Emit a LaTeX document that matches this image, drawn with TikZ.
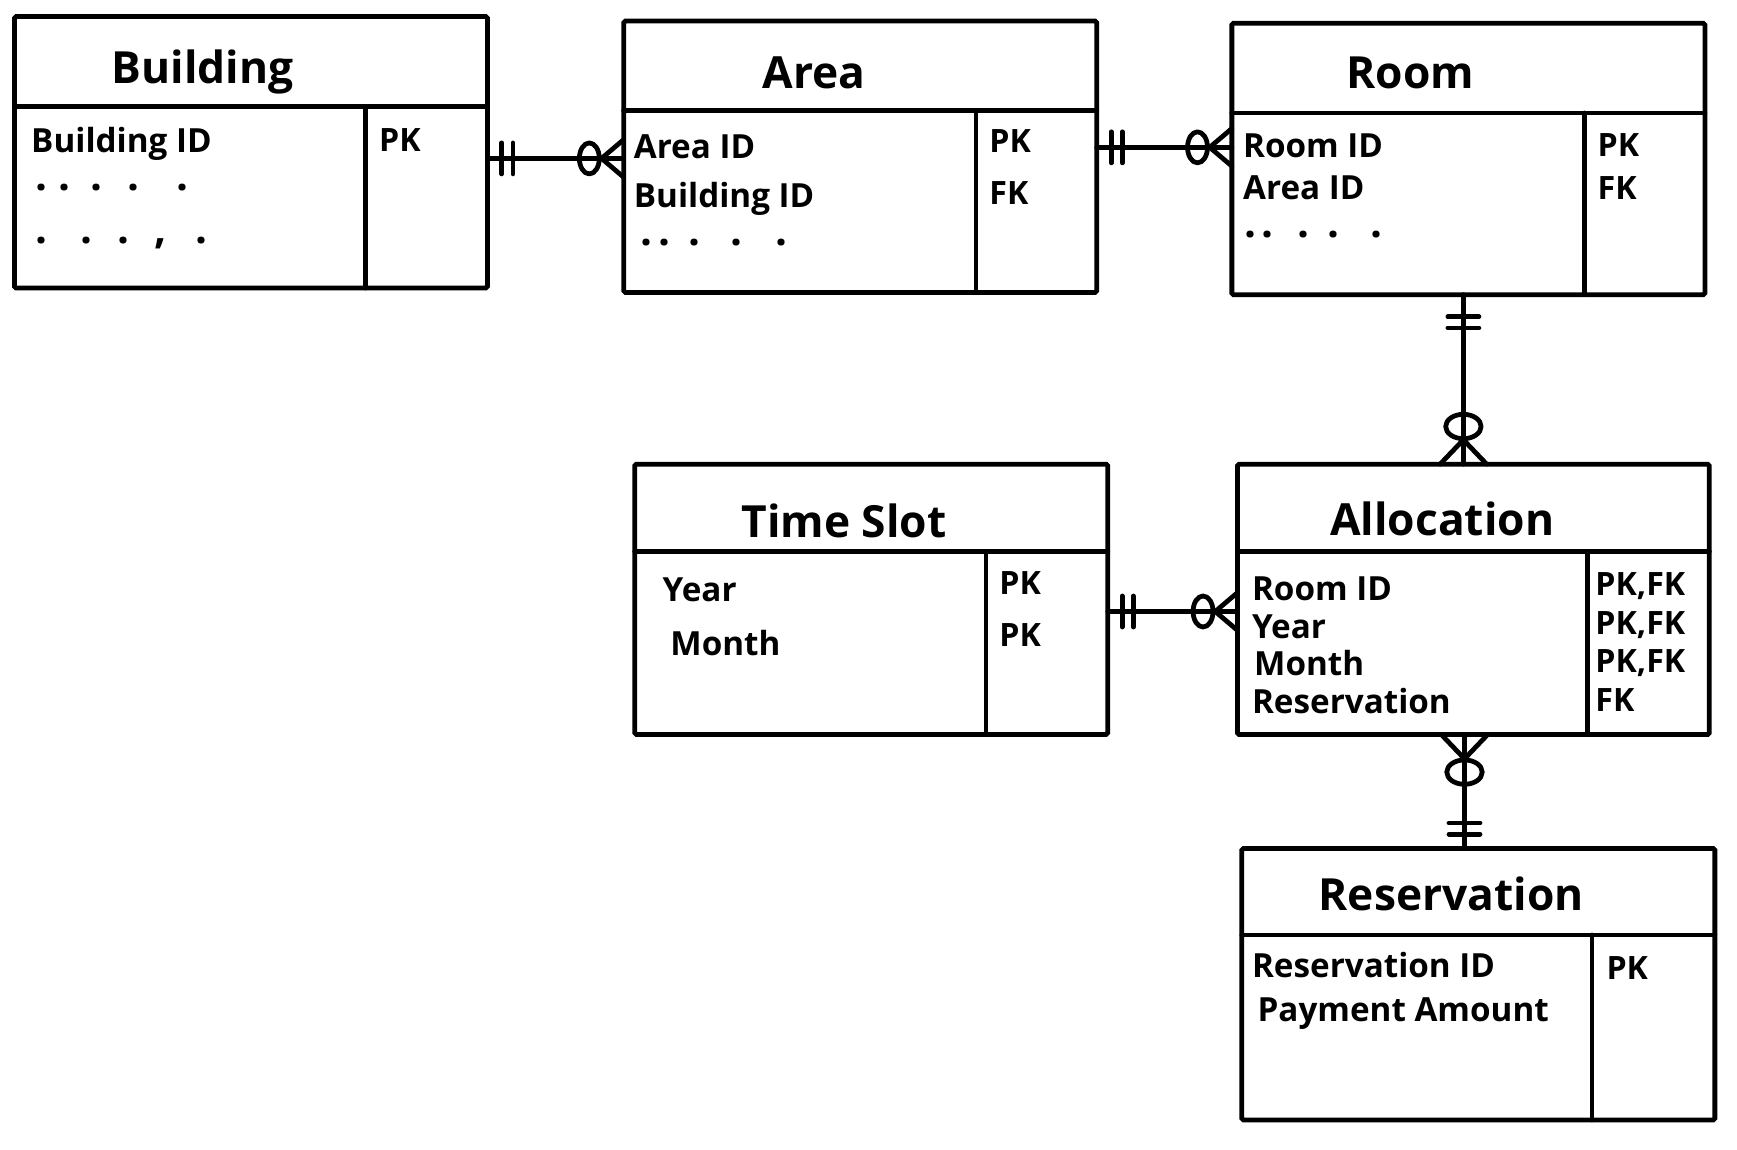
\documentclass[tikz,border=0pt]{standalone}
\usepackage{fontspec}
\setmainfont{Open Sans}
\newcommand{\erent}[7]{% name, x1, y1, x2, y2, header y, divider x
  \node[ent, minimum width={(#4-#2)*1pt}, minimum height={(#5-#3)*1pt}] (#1) at (#2,#3) {};
  \draw[ln] (#1.west |- 0,#6) -- (#1.east |- 0,#6);
  \draw[ln] (#7,#6) -- (#1.south -| #7,0);
}
\begin{document}
\begin{tikzpicture}[x=1pt,y=-1pt,
  ln/.style={line width=4.3pt, line cap=round, line join=round},
  ent/.style={draw, line width=4.3pt, rounded corners=1.5pt, inner sep=0pt, outer sep=0pt, anchor=north west},
  ttl/.style={font=\fontsize{40}{44}\selectfont\bfseries, anchor=base, inner sep=0pt},
  att/.style={font=\fontsize{30}{34}\selectfont\bfseries, anchor=base west, inner sep=0pt},
  dots/.style={font=\fontsize{38}{40}\selectfont\bfseries, anchor=base west, inner sep=0pt, text height=7pt, text depth=2pt},
  keyt/.style={font=\fontsize{29}{33}\selectfont\bfseries, anchor=base west, inner sep=0pt},
  one/.pic={\draw[ln] (13,-14) -- (13,14) (23,-14) -- (23,14);},
  onefar/.pic={\draw[ln] (20,-14) -- (20,14) (30,-14) -- (30,14);},
  zmany/.pic={\draw[ln] (0,-17) -- (20,0) -- (0,17);
              \draw[ln] (31,0) ellipse [x radius=9, y radius=14];},
  zmanyv/.pic={\draw[ln] (0,-21) -- (22,0) -- (0,21);
              \draw[ln] (34,0) ellipse [x radius=11, y radius=16];}
]
\fill[white] (0,0) rectangle (1568,1038);
\useasboundingbox (0,0) rectangle (1568,1038);

% ---------- entities ----------
\erent{bld}{13}{15}{440}{260}{96}{330}
\erent{area}{563}{19}{990}{264}{100}{881}
\erent{room}{1112}{21}{1539}{266}{102}{1430}
\erent{slot}{573}{419}{1000}{663}{498}{890}
\erent{alloc}{1117}{419}{1543}{663}{498}{1433}
\erent{res}{1121}{766}{1548}{1011}{844}{1437}

% ---------- Building ----------
\node[ttl] (bldT) at (183,75) {Building};
\node[att] (bldA1) at (28,138) {Building ID};
\node[dots] (bldD1) at (32,172) {.\hspace{10pt}.\hspace{18pt}.\hspace{22pt}.\hspace{34pt}.};
\node[dots] (bldD2) at (32,220) {.\hspace{30pt}.\hspace{22pt}.\hspace{23pt},\hspace{26pt}.};
\node[keyt] (bldK1) at (342,137) {PK};

% ---------- Area ----------
\node[ttl] (areaT) at (735,80) {Area};
\node[att] (areaA1) at (572,143) {Area ID};
\node[att] (areaA2) at (572,187) {Building ID};
\node[dots] (areaD) at (578,222) {.\hspace{5pt}.\hspace{17pt}.\hspace{27pt}.\hspace{30pt}.};
\node[keyt] (areaK1) at (893,138) {PK};
\node[keyt] (areaK2) at (893,185) {FK};

% ---------- Room ----------
\node[ttl] (roomT) at (1273,80) {Room};
\node[att] (roomA1) at (1122,142) {Room ID};
\node[att] (roomA2) at (1122,180) {Area ID};
\node[dots] (roomD) at (1123,214) {.\hspace{5pt}.\hspace{21pt}.\hspace{17pt}.\hspace{28pt}.};
\node[keyt] (roomK1) at (1442,141) {PK};
\node[keyt] (roomK2) at (1442,180) {FK};

% ---------- Time Slot ----------
\node[ttl] (slotT) at (762,485) {Time Slot};
\node[att] (slotA1) at (598,543) {Year};
\node[att] (slotA2) at (605,592) {Month};
\node[keyt] (slotK1) at (902,537) {PK};
\node[keyt] (slotK2) at (902,584) {PK};

% ---------- Allocation ----------
\node[ttl] (allocT) at (1302,483) {Allocation};
\node[att] (allocA1) at (1130,542) {Room ID};
\node[att] (allocA2) at (1130,576) {Year};
\node[att] (allocA3) at (1132,610) {Month};
\node[att] (allocA4) at (1130,644) {Reservation};
\node[keyt] (allocK1) at (1440,538) {PK,FK};
\node[keyt] (allocK2) at (1440,573) {PK,FK};
\node[keyt] (allocK3) at (1440,607) {PK,FK};
\node[keyt] (allocK4) at (1440,642) {FK};

% ---------- Reservation ----------
\node[ttl] (resT) at (1310,822) {Reservation};
\node[att] (resA1) at (1130,882) {Reservation ID};
\node[att] (resA2) at (1135,922) {Payment Amount};
\node[keyt] (resK1) at (1450,884) {PK};

% ---------- relationships ----------
% Building -- Area
\draw[ln] (bld.east |- 0,143) -- (area.west |- 0,143);
\pic at (bld.east |- 0,143) {one};
\pic[rotate=180] at (area.west |- 0,143) {zmany};
% Area -- Room
\draw[ln] (area.east |- 0,133) -- (room.west |- 0,133);
\pic at (area.east |- 0,133) {one};
\pic[rotate=180] at (room.west |- 0,133) {zmany};
% Room -- Allocation
\draw[ln] (room.south -| 1321,0) -- (alloc.north -| 1321,0);
\pic[rotate=-90] at (room.south -| 1321,0) {onefar};
\pic[rotate=90] at (alloc.north -| 1321,0) {zmanyv};
% Time Slot -- Allocation
\draw[ln] (slot.east |- 0,552) -- (alloc.west |- 0,552);
\pic at (slot.east |- 0,552) {one};
\pic[rotate=180] at (alloc.west |- 0,552) {zmany};
% Allocation -- Reservation
\draw[ln] (alloc.south -| 1322,0) -- (res.north -| 1322,0);
\pic[rotate=-90] at (alloc.south -| 1322,0) {zmanyv};
\pic[rotate=90] at (res.north -| 1322,0) {one};
\end{tikzpicture}
\end{document}
